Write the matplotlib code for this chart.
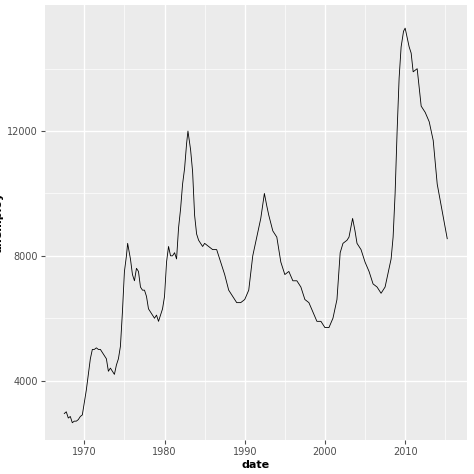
import numpy as np
import matplotlib.pyplot as plt

# approximate readings of unemployment (thousands), roughly quarterly
years = [1967.5, 1967.75, 1968.0, 1968.25, 1968.5, 1968.75, 1969.0, 1969.25, 1969.5, 1969.75,
         1970.0, 1970.25, 1970.5, 1970.75, 1971.0, 1971.25, 1971.5, 1971.75, 1972.0, 1972.25,
         1972.5, 1972.75, 1973.0, 1973.25, 1973.5, 1973.75, 1974.0, 1974.25, 1974.5, 1974.75,
         1975.0, 1975.25, 1975.4, 1975.75, 1976.0, 1976.25, 1976.5, 1976.75, 1977.0, 1977.25,
         1977.5, 1977.75, 1978.0, 1978.25, 1978.5, 1978.75, 1979.0, 1979.25, 1979.5, 1979.75,
         1980.0, 1980.25, 1980.5, 1980.75, 1981.0, 1981.25, 1981.5, 1981.75, 1982.0, 1982.25,
         1982.5, 1982.75, 1982.92, 1983.25, 1983.5, 1983.75, 1984.0, 1984.25, 1984.5, 1984.75,
         1985.0, 1985.5, 1986.0, 1986.5, 1987.0, 1987.5, 1988.0, 1988.5, 1989.0, 1989.5,
         1990.0, 1990.5, 1991.0, 1991.5, 1992.0, 1992.45, 1992.75, 1993.0, 1993.5, 1994.0,
         1994.5, 1995.0, 1995.5, 1996.0, 1996.5, 1997.0, 1997.5, 1998.0, 1998.5, 1999.0,
         1999.5, 2000.0, 2000.5, 2001.0, 2001.5, 2001.9, 2002.25, 2002.75, 2003.0, 2003.45,
         2003.75, 2004.0, 2004.5, 2005.0, 2005.5, 2006.0, 2006.5, 2007.0, 2007.5, 2008.0,
         2008.25, 2008.5, 2008.75, 2009.0, 2009.25, 2009.5, 2009.8, 2010.0, 2010.25, 2010.5,
         2010.75, 2011.0, 2011.5, 2012.0, 2012.5, 2013.0, 2013.5, 2014.0, 2014.5, 2015.0, 2015.25]
unemploy = [2944, 3000, 2800, 2850, 2650, 2700, 2700, 2750, 2850, 2900,
            3300, 3700, 4200, 4700, 5000, 5000, 5050, 5000, 5000, 4900,
            4800, 4700, 4300, 4400, 4300, 4200, 4500, 4700, 5100, 6200,
            7500, 8000, 8400, 7900, 7400, 7200, 7600, 7500, 7000, 6900,
            6900, 6700, 6300, 6200, 6100, 6000, 6100, 5900, 6100, 6300,
            6700, 7800, 8300, 8000, 8000, 8100, 7900, 8900, 9500, 10300,
            10800, 11600, 12000, 11400, 10700, 9300, 8700, 8500, 8400, 8300,
            8400, 8300, 8200, 8200, 7800, 7400, 6900, 6700, 6500, 6500,
            6600, 6900, 8000, 8600, 9200, 10000, 9600, 9300, 8800, 8600,
            7800, 7400, 7500, 7200, 7200, 7000, 6600, 6500, 6200, 5900,
            5900, 5700, 5700, 6000, 6600, 8100, 8400, 8500, 8600, 9200,
            8800, 8400, 8200, 7800, 7500, 7100, 7000, 6800, 7000, 7600,
            7900, 8600, 10000, 12000, 13700, 14700, 15200, 15300, 15000, 14700,
            14500, 13900, 14000, 12800, 12600, 12300, 11700, 10300, 9600, 8900, 8549]

fig, ax = plt.subplots(figsize=(4.74, 4.74), dpi=100)
ax.set_facecolor('#ebebeb')
ax.plot(years, unemploy, color='black', linewidth=0.6)
ax.set_xticks([1970, 1980, 1990, 2000, 2010])
ax.set_yticks([4000, 8000, 12000])
ax.set_xticks([1975, 1985, 1995, 2005, 2015], minor=True)
ax.set_yticks([2000, 6000, 10000, 14000], minor=True)
ax.grid(which='major', color='white', linewidth=1.0)
ax.grid(which='minor', color='white', linewidth=0.5)
ax.set_axisbelow(True)
for s in ax.spines.values():
    s.set_visible(False)
ax.tick_params(which='major', colors='#4d4d4d', labelsize=7, length=3, pad=2)
ax.tick_params(which='minor', length=0)
ax.set_xlim(1965.1, 2017.7)
ax.set_ylim(2100, 16050)
ax.set_xlabel('date', fontsize=8, fontweight='bold', labelpad=2)
ax.set_ylabel('unemploy', fontsize=8, fontweight='bold', labelpad=3)
fig.subplots_adjust(left=0.095, right=0.985, top=0.99, bottom=0.072)
fig.savefig('out.png')
